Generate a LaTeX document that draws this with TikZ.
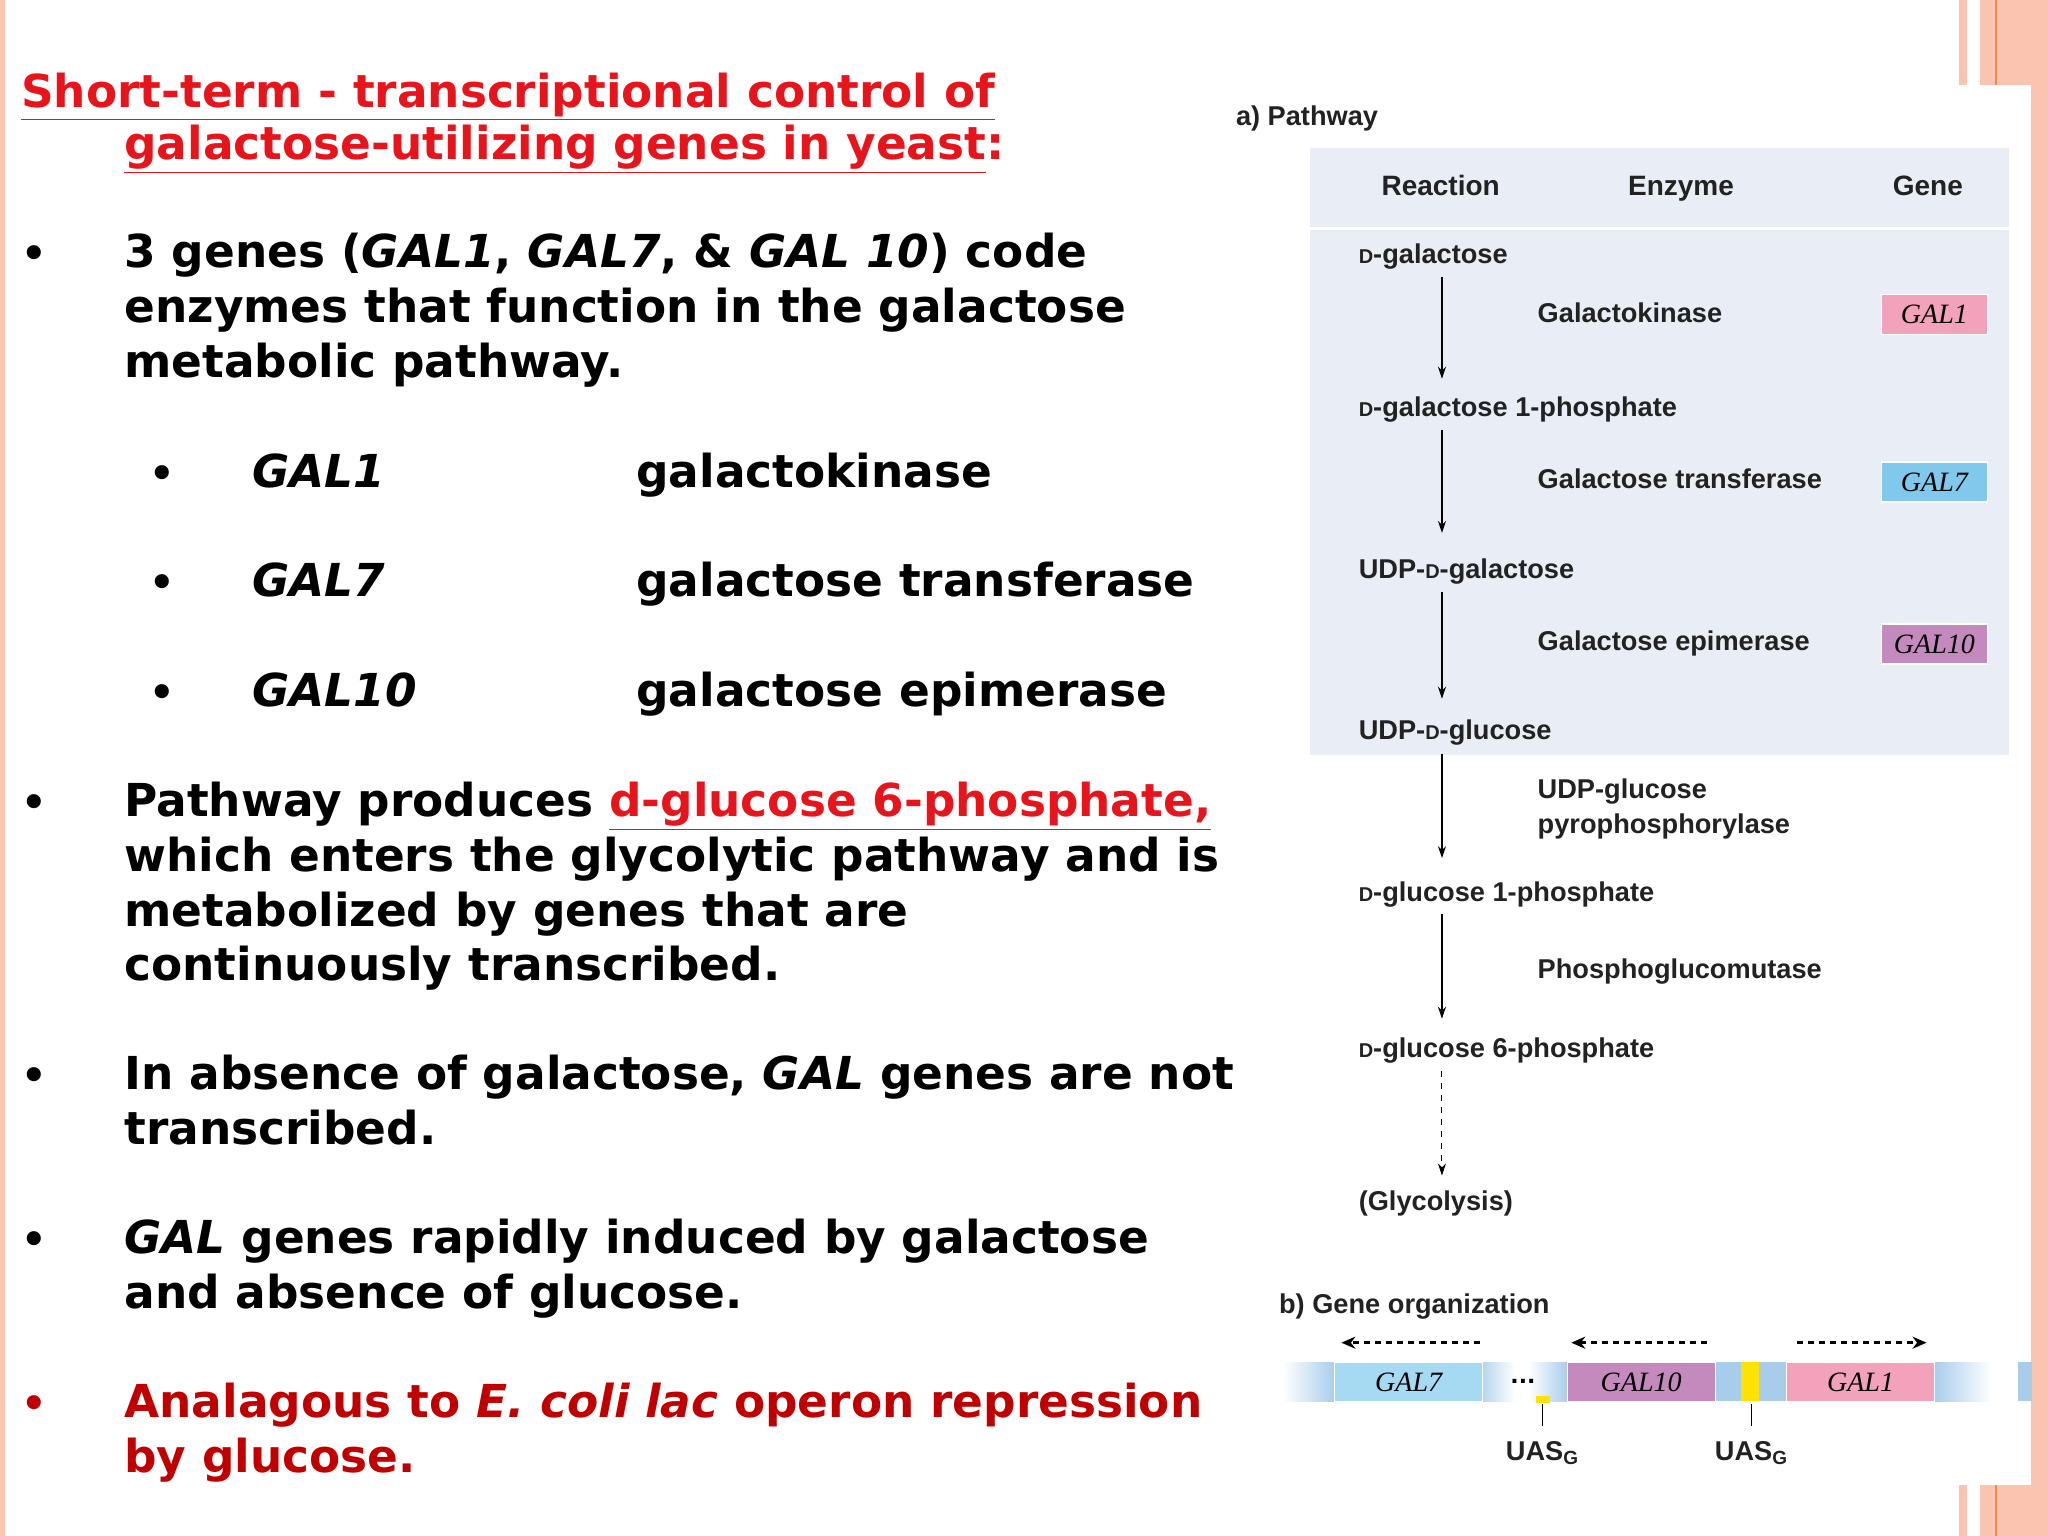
\documentclass[tikz,border=0pt]{standalone}
\usepackage{fontspec}
\setmainfont{DejaVu Sans}
\newfontfamily\figf{Liberation Sans}
\newfontfamily\genef{Liberation Serif}
\usetikzlibrary{arrows.meta}
\definecolor{peach}{HTML}{FBC4B0}
\definecolor{orng}{HTML}{F08A4B}
\definecolor{tred}{HTML}{E8141C}
\definecolor{dred}{HTML}{C00000}
\definecolor{panel}{HTML}{E9EEF6}
\definecolor{g1}{HTML}{F2A2BA}
\definecolor{g7}{HTML}{80C9EC}
\definecolor{g10}{HTML}{C48ABD}
\definecolor{barb}{HTML}{A8CDEB}
\definecolor{figtxt}{HTML}{222222}
\begin{document}
\begin{tikzpicture}[x=0.6531pt,y=-0.6531pt,
  body/.style={anchor=base west,inner sep=0,font=\fontsize{22.7}{26}\selectfont\bfseries},
  bul/.style={anchor=base west,inner sep=0,font=\fontsize{20}{26}\selectfont\bfseries},
  met/.style={anchor=base west,inner sep=0,text=figtxt,font=\figf\bfseries\fontsize{13.6}{16}\selectfont},
  hdr/.style={anchor=base,inner sep=0,text=figtxt,font=\figf\bfseries\fontsize{14}{16}\selectfont},
  genebox/.style={draw=white,line width=0.6pt,inner sep=0,minimum width=53pt,minimum height=20pt,font=\genef\itshape\fontsize{14}{16}\selectfont},
  parr/.style={-{Stealth[length=6pt,width=4pt]},line width=0.7pt},
  darr/.style={-{Stealth[length=7pt,width=6pt]},dash pattern=on 3pt off 2.5pt,line width=1.2pt}]
\useasboundingbox (0,0) rectangle (1568,1176);
\fill[white] (0,0) rectangle (1568,1176);
% slide edge stripes
\fill[peach] (0,0) rectangle (4,1176);
\fill[peach] (1500,0) rectangle (1506,1176);
\fill[peach] (1516,0) rectangle (1568,1176);
\draw[orng,line width=0.8pt] (1528,0) -- (1528,1176);
% figure background
\fill[white] (930,65) rectangle (1555,1137);
% title
\node[body,text=tred] (t1) at (16,82) {\underline{Short-term - transcriptional control of}};
\node[body,text=tred] (t2) at (95,122) {\underline{galactose-utilizing genes in yeast}:};
% bullets
\foreach \y in {205,625,834,960}{\node[bul] at (16,\y) {•};}
\node[bul,text=dred] at (16,1085) {•};
\node[body] (b1a) at (95,205) {3 genes (\textit{GAL1}, \textit{GAL7}, \& \textit{GAL 10}) code};
\node[body] (b1b) at (95,247) {enzymes that function in the galactose};
\node[body] (b1c) at (95,289) {metabolic pathway.};
\foreach \y/\g/\d in {373/GAL1/galactokinase,457/GAL7/galactose transferase,541/GAL10/galactose epimerase}{
  \node[bul] at (114,\y) {•};
  \node[body] at (193,\y) {\textit{\g}};
  \node[body] at (487,\y) {\d};}
\node[body] (b2a) at (95,625) {Pathway produces \textcolor{tred}{\underline{d-glucose 6-phosphate,}}};
\node[body] (b2b) at (95,667) {which enters the glycolytic pathway and is};
\node[body] (b2c) at (95,709) {metabolized by genes that are};
\node[body] (b2d) at (95,751) {continuously transcribed.};
\node[body] (b3a) at (95,834) {In absence of galactose, \textit{GAL} genes are not};
\node[body] (b3b) at (95,876) {transcribed.};
\node[body] (b4a) at (95,960) {\textit{GAL} genes rapidly induced by galactose};
\node[body] (b4b) at (95,1002) {and absence of glucose.};
\node[body,text=dred] (b5a) at (95,1085) {Analagous to \textit{E. coli lac} operon repression};
\node[body,text=dred] (b5b) at (95,1127) {by glucose.};
% figure
\node[met] (pa) at (946,96) {a) Pathway};
\fill[panel] (1003,113) rectangle (1538,578);
\draw[white,line width=1.5pt] (1003,175) -- (1538,175);
\node[hdr] (h1) at (1103,150) {Reaction};
\node[hdr] (h2) at (1287,150) {Enzyme};
\node[hdr] (h3) at (1476,150) {Gene};
\node[met] (m1) at (1040,202) {{\fontsize{10}{12}\selectfont D}-galactose};
\node[met] (m2) at (1040,319) {{\fontsize{10}{12}\selectfont D}-galactose 1-phosphate};
\node[met] (m3) at (1040,443) {UDP-{\fontsize{10}{12}\selectfont D}-galactose};
\node[met] (m4) at (1040,566) {UDP-{\fontsize{10}{12}\selectfont D}-glucose};
\node[met] (m5) at (1040,690) {{\fontsize{10}{12}\selectfont D}-glucose 1-phosphate};
\node[met] (m6) at (1040,810) {{\fontsize{10}{12}\selectfont D}-glucose 6-phosphate};
\node[met] (m7) at (1040,927) {(Glycolysis)};
\coordinate (a1s) at (1104,212); \coordinate (a1e) at (1104,290);
\coordinate (a2s) at (1104,329); \coordinate (a2e) at (1104,408);
\coordinate (a3s) at (1104,453); \coordinate (a3e) at (1104,535);
\coordinate (a4s) at (1104,577); \coordinate (a4e) at (1104,657);
\coordinate (a5s) at (1104,700); \coordinate (a5e) at (1104,780);
\coordinate (a6s) at (1104,820); \coordinate (a6e) at (1104,900);
\draw[parr] (a1s) -- (a1e);
\draw[parr] (a2s) -- (a2e);
\draw[parr] (a3s) -- (a3e);
\draw[parr] (a4s) -- (a4e);
\draw[parr] (a5s) -- (a5e);
\draw[parr,dashed,line width=0.5pt] (a6s) -- (a6e);
\node[met] (e1) at (1177,247) {Galactokinase};
\node[met] (e2) at (1177,374) {Galactose transferase};
\node[met] (e3) at (1177,498) {Galactose epimerase};
\node[met] (e4a) at (1177,611) {UDP-glucose};
\node[met] (e4b) at (1177,638) {pyrophosphorylase};
\node[met] (e5) at (1177,749) {Phosphoglucomutase};
\node[genebox,fill=g1] (gg1) at (1481,241) {GAL1};
\node[genebox,fill=g7] (gg7) at (1481,369) {GAL7};
\node[genebox,fill=g10] (gg10) at (1481,493) {GAL10};
% gene organization
\node[met] (go) at (979,1006) {b) Gene organization};
\shade[left color=white,right color=barb] (982,1043) rectangle (1022,1073);
\fill[barb] (1022,1043) rectangle (1130,1073);
\shade[left color=barb,right color=white] (1130,1043) rectangle (1160,1073);
\shade[left color=white,right color=barb] (1170,1043) rectangle (1200,1073);
\fill[barb] (1200,1043) rectangle (1481,1073);
\shade[left color=barb,right color=white] (1481,1043) rectangle (1525,1073);
\fill[barb] (1545,1043) rectangle (1556,1073);
\node[genebox,fill=g7!70!white,minimum width=74pt,minimum height=19.6pt] (bg7) at (1078.5,1058) {GAL7};
\node[genebox,fill=g10,minimum width=74pt,minimum height=19.6pt] (bg10) at (1256.5,1058) {GAL10};
\node[genebox,fill=g1,minimum width=74pt,minimum height=19.6pt] (bg1) at (1424.5,1058) {GAL1};
\fill[yellow!85!orange] (1333,1043) rectangle (1347,1073);
\fill[yellow!85!orange] (1176,1069) rectangle (1187,1074);
\node[font=\bfseries\fontsize{11}{12}\selectfont,inner sep=0] (dots) at (1166,1058) {...};
\coordinate (d1s) at (1133,1028); \coordinate (d1e) at (1027,1028);
\coordinate (d2s) at (1307,1028); \coordinate (d2e) at (1203,1028);
\coordinate (d3s) at (1376,1028); \coordinate (d3e) at (1475,1028);
\draw[darr] (d1s) -- (d1e);
\draw[darr] (d2s) -- (d2e);
\draw[darr] (d3s) -- (d3e);
\coordinate (u1t) at (1181,1075); \coordinate (u1b) at (1181,1092);
\coordinate (u2t) at (1341,1075); \coordinate (u2b) at (1341,1092);
\draw[line width=0.6pt] (u1t) -- (u1b);
\draw[line width=0.6pt] (u2t) -- (u2b);
\node[met,anchor=base] (ua1) at (1181,1118) {UAS\textsubscript{G}};
\node[met,anchor=base] (ua2) at (1341,1118) {UAS\textsubscript{G}};
\end{tikzpicture}
\end{document}
